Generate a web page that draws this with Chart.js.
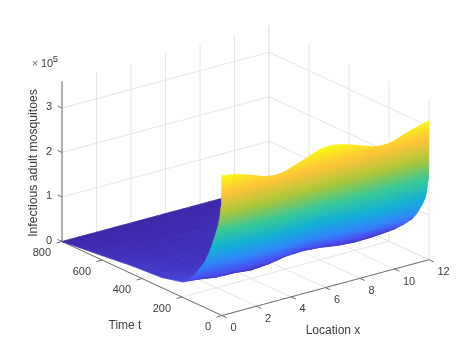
<!DOCTYPE html>
<html><head><meta charset="utf-8">
<style>html,body{margin:0;padding:0;background:#fff}canvas{display:block}</style>
<script src="https://cdn.jsdelivr.net/npm/chart.js@4/dist/chart.umd.js"></script>
</head><body><canvas id="c" width="474" height="355"></canvas>
<script>
// ---- data ----
const locationTicks = [0,2,4,6,8,10,12];
const timeTicks = [0,200,400,600,800];
const heightTicks = [0,1,2,3];
const locations = [0,0.5,1,1.5,2,2.5,3,3.5,4,4.5,5,5.5,6,6.5,7,7.5,8,8.5,9,9.5,10,10.5,11,11.5,12];
const times = [0,2,5,10,20,35,60,85,125,170,200,300,450,600,800];
const zT0   = [3.14,3.11,3.07,3.00,2.93,2.86,2.83,2.84,2.90,2.97,3.04,3.12,3.16,3.15,3.11,3.05,2.98,2.91,2.86,2.85,2.88,2.96,3.02,3.08,3.12];
const zT2   = [2.80,2.74,2.68,2.59,2.51,2.42,2.37,2.35,2.37,2.40,2.43,2.47,2.47,2.43,2.38,2.30,2.22,2.14,2.08,2.05,2.04,2.07,2.09,2.10,2.10];
const zT5   = [2.44,2.39,2.33,2.25,2.18,2.10,2.05,2.04,2.05,2.08,2.10,2.13,2.13,2.09,2.04,1.98,1.90,1.84,1.78,1.75,1.74,1.77,1.78,1.78,1.78];
const zT10  = [2.20,2.15,2.10,2.03,1.95,1.88,1.84,1.82,1.83,1.85,1.87,1.89,1.89,1.86,1.81,1.75,1.68,1.62,1.57,1.54,1.53,1.55,1.55,1.56,1.55];
const zT20  = [1.96,1.92,1.86,1.80,1.73,1.67,1.63,1.61,1.62,1.63,1.65,1.66,1.66,1.63,1.58,1.53,1.47,1.41,1.36,1.33,1.32,1.34,1.34,1.34,1.33];
const zT35  = [1.70,1.66,1.62,1.56,1.50,1.45,1.41,1.40,1.41,1.42,1.43,1.45,1.44,1.42,1.38,1.33,1.28,1.23,1.18,1.16,1.15,1.16,1.17,1.17,1.16];
const zT60  = [1.33,1.30,1.27,1.22,1.18,1.13,1.11,1.10,1.10,1.11,1.12,1.14,1.14,1.11,1.08,1.05,1.01,0.97,0.93,0.92,0.91,0.92,0.92,0.93,0.92];
const zT85  = [1.03,1.01,0.98,0.95,0.92,0.88,0.86,0.86,0.86,0.87,0.88,0.89,0.89,0.88,0.86,0.83,0.80,0.77,0.74,0.73,0.73,0.74,0.74,0.74,0.74];
const zT125 = [0.72,0.72,0.70,0.68,0.66,0.64,0.63,0.63,0.64,0.64,0.65,0.66,0.67,0.67,0.65,0.63,0.61,0.59,0.58,0.57,0.57,0.58,0.58,0.57,0.54];
const zT170 = [0.44,0.45,0.44,0.41,0.38,0.37,0.36,0.35,0.33,0.34,0.36,0.39,0.43,0.44,0.45,0.43,0.42,0.39,0.36,0.34,0.33,0.33,0.34,0.35,0.34];
const zT200 = [0.34,0.32,0.30,0.27,0.24,0.235,0.23,0.21,0.19,0.205,0.22,0.255,0.29,0.30,0.31,0.295,0.28,0.25,0.22,0.205,0.19,0.195,0.20,0.215,0.23];
const zT300 = [0.23,0.22,0.21,0.19,0.17,0.165,0.16,0.15,0.14,0.15,0.16,0.18,0.20,0.21,0.21,0.20,0.19,0.17,0.15,0.14,0.13,0.135,0.14,0.15,0.16];
const zT450 = [0.18,0.17,0.16,0.145,0.13,0.125,0.12,0.115,0.11,0.115,0.12,0.135,0.15,0.15,0.155,0.15,0.14,0.13,0.12,0.11,0.105,0.11,0.11,0.115,0.12];
const zT600 = [0.10,0.095,0.09,0.08,0.07,0.07,0.07,0.065,0.06,0.065,0.07,0.075,0.08,0.08,0.08,0.08,0.075,0.07,0.065,0.06,0.06,0.06,0.06,0.065,0.07];
const zT800 = [0,0,0,0,0,0,0,0,0,0,0,0,0,0,0,0,0,0,0,0,0,0,0,0,0];
const zRows = [zT0,zT2,zT5,zT10,zT20,zT35,zT60,zT85,zT125,zT170,zT200,zT300,zT450,zT600,zT800];
const xTitle = 'Location x', tTitle = 'Time t', zTitle = 'Infectious adult mosquitoes';

// ---- view: orthographic 3-D projection onto the two linear scales ----
const view = {ox:222, oy:315.5, xx:17.25, xy:-4.65, tx:-0.2, ty:-0.0925, zy:-44.5};
const project = (x,t,z) => ({x: view.ox+view.xx*x+view.tx*t, y: view.oy+view.xy*x+view.ty*t+view.zy*z});
const X_MAX = 12, T_MAX = 800, Z_MAX = 3.6, C_MAX = 3.17;

const parulaStops = [[62,38,168],[72,82,244],[46,135,247],[18,177,214],[55,200,151],[171,199,57],[254,195,56],[249,251,21]];
function parula(v){
  v = Math.min(1,Math.max(0,v))*(parulaStops.length-1);
  const i = Math.min(parulaStops.length-2,Math.floor(v)), f = v-i;
  const a = parulaStops[i], b = parulaStops[i+1];
  return `rgb(${a.map((c,k)=>Math.round(c+(b[k]-c)*f)).join(',')})`;
}
function cellPaint(chart, pts, zs){
  const zc = (zs[0]+zs[1]+zs[2]+zs[3])/4;
  const sx = chart.scales.x, sy = chart.scales.y;
  const p = pts.map(q=>({x:sx.getPixelForValue(q.x), y:sy.getPixelForValue(q.y)}));
  if (!p.every(q=>isFinite(q.x)&&isFinite(q.y))) return parula(zc/C_MAX);
  const zmin = Math.min(...zs), zmax = Math.max(...zs);
  const d1x=p[2].x-p[0].x, d1y=p[2].y-p[0].y, d2x=p[3].x-p[1].x, d2y=p[3].y-p[1].y;
  const dz1=zs[2]-zs[0], dz2=zs[3]-zs[1];
  const det=d1x*d2y-d1y*d2x;
  if (Math.abs(det)<3 || zmax-zmin<0.004) return parula(zc/C_MAX);
  const a=(dz1*d2y-dz2*d1y)/det, b=(d1x*dz2-d2x*dz1)/det, m=a*a+b*b;
  if (m<1e-9) return parula(zc/C_MAX);
  const cx=(p[0].x+p[1].x+p[2].x+p[3].x)/4, cy=(p[0].y+p[1].y+p[2].y+p[3].y)/4;
  const g=chart.ctx.createLinearGradient(cx+a*(zmin-zc)/m, cy+b*(zmin-zc)/m, cx+a*(zmax-zc)/m, cy+b*(zmax-zc)/m);
  for(let k=0;k<=8;k++) g.addColorStop(k/8, parula((zmin+(zmax-zmin)*k/8)/C_MAX));
  return g;
}

// ---- datasets, listed back to front, reversed below because Chart.js paints index 0 last ----
const backToFront = [];
const seg = (a,b,color,w) => backToFront.push({type:'scatter',showLine:true,data:[a,b],borderColor:color,borderWidth:w,pointRadius:0,fill:false});
const GRID = '#e6e6e6';
for (const x of locationTicks){
  seg(project(x,T_MAX,0),project(x,T_MAX,Z_MAX),GRID,1);
  seg(project(x,0,0),project(x,T_MAX,0),GRID,1);
}
for (const t of timeTicks){
  seg(project(X_MAX,t,0),project(X_MAX,t,Z_MAX),GRID,1);
  seg(project(0,t,0),project(X_MAX,t,0),GRID,1);
}
for (const z of heightTicks){
  seg(project(0,T_MAX,z),project(X_MAX,T_MAX,z),GRID,1);
  seg(project(X_MAX,T_MAX,z),project(X_MAX,0,z),GRID,1);
}
const AXIS = '#6e6e6e';
seg(project(0,T_MAX,0),project(0,T_MAX,Z_MAX),AXIS,1);
seg(project(0,T_MAX,0),project(0,0,0),AXIS,1);
seg(project(0,0,0),project(X_MAX,0,0),AXIS,1);
for (const z of heightTicks){const a=project(0,T_MAX,z);seg(a,{x:a.x-4.6,y:a.y-2.1},AXIS,1);}
for (const t of timeTicks){const a=project(0,t,0);seg(a,{x:a.x-5.5,y:a.y+1.5},AXIS,1);}
for (const x of locationTicks){const a=project(x,0,0);seg(a,{x:a.x+4.8,y:a.y+2.2},AXIS,1);}

for (let i=times.length-2;i>=0;i--){
  for (let j=locations.length-2;j>=0;j--){
    const zs=[zRows[i][j],zRows[i][j+1],zRows[i+1][j+1],zRows[i+1][j]];
    const pts=[project(locations[j],times[i],zs[0]),project(locations[j+1],times[i],zs[1]),
               project(locations[j+1],times[i+1],zs[2]),project(locations[j],times[i+1],zs[3])];
    const paint=c=>cellPaint(c.chart,pts,zs);
    backToFront.push({type:'scatter',showLine:true,data:[...pts,pts[0]],fill:'shape',
      backgroundColor:paint,borderColor:paint,borderWidth:0.8,pointRadius:0,tension:0});
  }
}

// ---- labels ----
const FONT='"Liberation Sans",Arial,sans-serif', INK='#3c3c3c';
const labelsPlugin={id:'labels3d',afterDraw(chart){
  const c=chart.ctx, sx=chart.scales.x, sy=chart.scales.y;
  const put=(s,p,dx,dy)=>{c.fillText(s,sx.getPixelForValue(p.x)+dx,sy.getPixelForValue(p.y)+dy);};
  c.save();c.fillStyle=INK;c.textBaseline='middle';c.font=`11px ${FONT}`;
  c.textAlign='center';
  for(const z of heightTicks) put(String(z),project(0,T_MAX,z),-13,-1);
  c.textAlign='right';
  for(const t of timeTicks) put(String(t),project(0,t,0),-11,11.5);
  c.textAlign='left';
  for(const x of locationTicks) put(String(x),project(x,0,0),8.5,12.5);
  c.textAlign='center';
  c.font=`12px ${FONT}`;
  c.fillText(tTitle,125,326);
  c.fillText(xTitle,333,331);
  c.save();c.translate(34,163);c.rotate(-Math.PI/2);c.font=`12.2px ${FONT}`;c.fillText(zTitle,0,0);c.restore();
  c.font=`11px ${FONT}`;c.fillStyle='#6a6a6a';c.fillText('×',35,64);c.fillStyle=INK;
  c.fillText('10',47,64);
  c.font=`9.5px ${FONT}`;c.fillText('5',55.5,59);
  c.restore();
}};

new Chart(document.getElementById('c'),{
  type:'scatter',
  data:{datasets:backToFront.reverse()},
  options:{responsive:false,animation:false,
    layout:{padding:0},
    plugins:{legend:{display:false},tooltip:{enabled:false}},
    scales:{x:{type:'linear',min:0,max:474,display:false},y:{type:'linear',min:0,max:355,reverse:true,display:false}}},
  plugins:[labelsPlugin]
});
</script></body></html>
